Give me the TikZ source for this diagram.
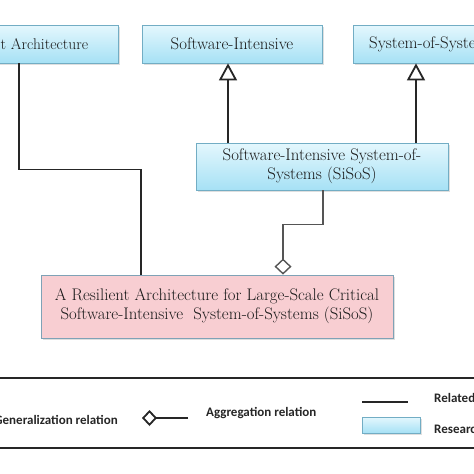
\documentclass[tikz,border=0pt]{standalone}
\usepackage{fontspec}
\newfontfamily\legfont{Carlito}
\usetikzlibrary{shadows,arrows.meta}
\definecolor{boxtop}{HTML}{E4F7FD}
\definecolor{boxbot}{HTML}{A6E1F5}
\definecolor{boxedge}{HTML}{72ADC4}
\definecolor{pinkfill}{HTML}{F8CED2}
\definecolor{pinkedge}{HTML}{7FA2B6}
\definecolor{agggray}{HTML}{555555}
\tikzset{
  boxtext/.style={font=\fontsize{16.8}{19}\selectfont, align=center, text=black!90},
  resbox/.style={draw=boxedge, line width=0.8pt, top color=boxtop, bottom color=boxbot,
     drop shadow={opacity=0.25, shadow xshift=1.5pt, shadow yshift=-1.5pt}, inner sep=0pt},
  pinkbox/.style={draw=pinkedge, line width=0.8pt, fill=pinkfill,
     drop shadow={opacity=0.25, shadow xshift=1.5pt, shadow yshift=-1.5pt}, inner sep=0pt},
  relline/.style={line width=1.8pt, black!85},
  genline/.style={line width=1.8pt, black!85, -{Triangle[open, length=17pt, width=18pt, fill=white]}},
  aggline/.style={line width=1.4pt, agggray, -{Diamond[open, length=16pt, width=17pt, fill=white]}},
  legtext/.style={font=\legfont\bfseries\fontsize{13}{15}\selectfont, inner sep=0pt, text=black!85},
  legrule/.style={line width=1.6pt, black!85},
}
\begin{document}
\begin{tikzpicture}[x=1pt, y=-1pt]
\useasboundingbox (0,0) rectangle (474,474);
\clip (0,0) rectangle (474,474);
\fill[white] (0,0) rectangle (474,474);

% top boxes
\node[resbox, minimum width=178pt, minimum height=38pt] (lbox) at (29,44) {};
\node[boxtext, font=\fontsize{15.5}{19}\selectfont, anchor=west, inner sep=0pt] (ltxt) at (0.5,44) {t Architecture};
\node[resbox, boxtext, minimum width=180pt, minimum height=38pt] (swi) at (232,44) {Software-Intensive};
\node[resbox, minimum width=166pt, minimum height=38pt] (sos) at (436,44) {};
\node[boxtext, anchor=west, inner sep=0pt] (sostxt) at (369,44) {System-of-Systems};

% middle box
\node[resbox, boxtext, minimum width=252pt, minimum height=47pt] (sisos) at (322,166.5)
  {Software-Intensive System-of-\\Systems (SiSoS)};

% pink box
\node[pinkbox, boxtext, minimum width=352pt, minimum height=63pt] (main) at (217,306.5)
  {A Resilient Architecture for Large-Scale Critical\\Software-Intensive\ \ System-of-Systems (SiSoS)};

% connectors
\draw[relline] ([xshift=-10pt]lbox.south) -- ++(0,106) -| ([xshift=-76pt]main.north);
\draw[genline] ([xshift=-94pt]sisos.north) -- ([xshift=-4pt]swi.south);
\draw[genline] ([xshift=94pt]sisos.north) -- ([xshift=-20pt]sos.south);
\draw[aggline] ([xshift=1pt]sisos.south) -- ++(0,34) -| ([xshift=66pt]main.north);

% legend
\coordinate (lt1) at (-2,378);
\coordinate (lt2) at (476,378);
\coordinate (lb1) at (-2,448);
\coordinate (lb2) at (476,448);
\draw[legrule] (lt1) -- (lt2);
\draw[legrule] (lb1) -- (lb2);

\node[legtext, anchor=east] (lgen) at (118,420) {Generalization relation};
\coordinate (la1) at (188,418);
\coordinate (la2) at (142,418);
\draw[line width=1.8pt, black!85, -{Diamond[open, length=15pt, width=16pt, fill=white]}] (la1) -- (la2);
\node[legtext, anchor=west] (lagg) at (206,413) {Aggregation relation};

\coordinate (lr1) at (362,402);
\coordinate (lr2) at (408,402);
\draw[line width=1.8pt, black!85] (lr1) -- (lr2);
\node[legtext, anchor=west] (lrel) at (434,398) {Related};
\node[resbox, minimum width=58pt, minimum height=16pt] (lres) at (391,425) {};
\node[legtext, anchor=west] (lresl) at (434,429) {Research};
\end{tikzpicture}
\end{document}
